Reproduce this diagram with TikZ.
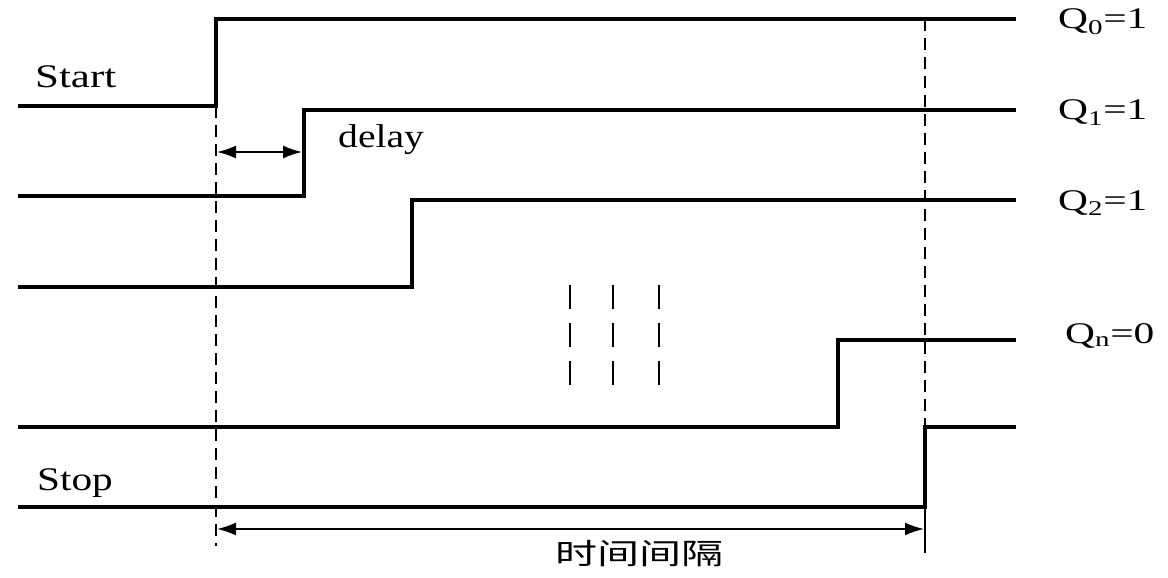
\documentclass[tikz,border=0pt]{standalone}
\usepackage{fontspec}
\usepackage{graphicx}
\setmainfont{Liberation Serif}
\newfontfamily\cjk{Noto Sans CJK SC}
\usetikzlibrary{arrows.meta}
\newcommand{\wid}[2]{\scalebox{#1}[1]{#2}}
\begin{document}
\begin{tikzpicture}[x=1pt,y=-1pt,
  sig/.style={line width=3.2pt,line join=miter},
  guide/.style={line width=1.5pt,dash pattern=on 12pt off 7pt},
  dim/.style={line width=1.8pt,{Latex[length=19pt,width=13pt]}-{Latex[length=19pt,width=13pt]}},
  lbl/.style={font=\fontsize{33}{36}\selectfont,inner sep=0pt,anchor=base west},
  qlbl/.style={font=\fontsize{30}{32}\selectfont,inner sep=0pt,anchor=base west},
  dots/.style={line width=1.8pt,dash pattern=on 24pt off 14pt}]
\useasboundingbox (0,0) rectangle (1168,578);
% signals
\draw[sig] (18,106) -- (216,106) -- (216,19) -- (1016,19);
\draw[sig] (18,196) -- (304,196) -- (304,110) -- (1016,110);
\draw[sig] (18,287) -- (412,287) -- (412,200) -- (1016,200);
\draw[sig] (18,427) -- (838,427) -- (838,340) -- (1016,340);
\draw[sig] (18,507) -- (925,507) -- (925,427) -- (1016,427);
% guide lines
\coordinate (g0a) at (216,106);
\coordinate (g0b) at (216,546);
\coordinate (g1a) at (925,19);
\coordinate (g1b) at (925,507);
\coordinate (g1c) at (925,553);
\draw[guide] (g0a) -- (g0b);
\draw[guide] (g1a) -- (g1b);
\draw[line width=1.5pt] (g1b) -- (g1c);
% delay arrow
\coordinate (d0) at (217,152);
\coordinate (d1) at (302,152);
\draw[dim] (d0) -- (d1);
\node[lbl] (delay) at (338,147) {\wid{1.2}{delay}};
% interval arrow
\coordinate (i0) at (217,529);
\coordinate (i1) at (924,529);
\draw[dim] (i0) -- (i1);
\node[inner sep=0pt,anchor=west,font=\cjk\fontsize{29}{30}\selectfont] (interval) at (555,554) {\wid{1.45}{时间间隔}};
% labels
\node[lbl] (start) at (35,88) {\wid{1.3}{Start}};
\node[lbl] (stop) at (37,490) {\wid{1.25}{Stop}};
\node[qlbl] (q0) at (1058,29) {\wid{1.38}{Q\textsubscript{0}=1}};
\node[qlbl] (q1) at (1058,120) {\wid{1.38}{Q\textsubscript{1}=1}};
\node[qlbl] (q2) at (1058,210) {\wid{1.38}{Q\textsubscript{2}=1}};
\node[qlbl] (qn) at (1065,343) {\wid{1.38}{Q\textsubscript{n}=0}};
% ellipsis dashes
\foreach \x in {570,613,659}
  \draw[dots] (\x,285) -- (\x,385);
\end{tikzpicture}
\end{document}
